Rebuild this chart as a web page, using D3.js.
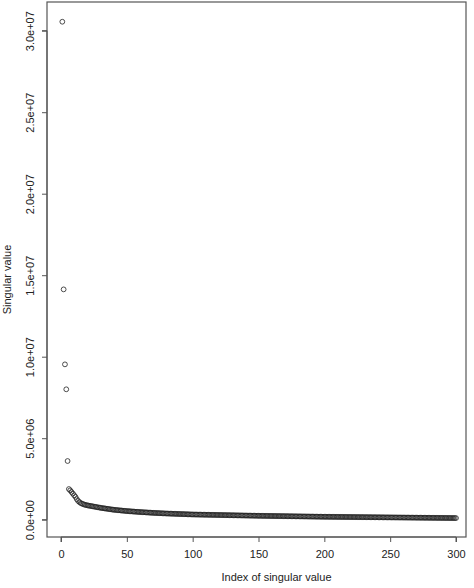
<!DOCTYPE html>
<html>
<head>
<meta charset="utf-8">
<script src="https://cdn.jsdelivr.net/npm/d3@7"></script>
<style>
  body { margin: 0; background: #fff; }
  text { font-family: "Liberation Sans", Arial, sans-serif; fill: #222; }
</style>
</head>
<body>
<script>
// singular values, first few read directly, rest in thousands
const topValues = [30.55e6, 14.13e6, 9.53e6, 8.0e6, 3.6e6];
const tailThousands = [
  1880,1800,1700,1600,1500,1400,1260,1150,1080,1020,
  980,950,920,900,880,
  865,850,835,820,805,790,775,760,745,730,
  718,706,694,682,670,658,646,634,622,610,
  602,594,586,578,570,562,554,546,538,530,
  524,518,512,506,500,494,488,482,476,470,
  465,460,455,450,445,440,435,430,425,420,
  416,412,408,404,400,396,392,388,384,380,
  377,374,371,368,365,362,359,356,353,350,
  347,344,341,338,335,332,329,326,323,320,
  318,317,315,313,312,310,309,307,305,304,
  302,301,299,297,296,294,293,291,289,288,
  286,285,283,281,280,278,277,275,273,272,
  270,269,267,265,264,262,261,259,257,256,
  254,253,251,249,248,246,245,243,241,240,
  239,238,236,235,234,233,232,230,229,228,
  227,226,224,223,222,221,220,218,217,216,
  215,214,212,211,210,209,208,206,205,204,
  203,202,200,199,198,197,196,194,193,192,
  191,190,188,187,186,185,184,182,181,180,
  179,178,178,177,176,175,174,174,173,172,
  171,170,170,169,168,167,166,166,165,164,
  163,162,162,161,160,159,158,158,157,156,
  155,154,154,153,152,151,150,150,149,148,
  147,146,146,145,144,143,142,142,141,140,
  139,138,138,137,136,135,134,134,133,132,
  131,130,130,129,128,127,126,126,125,124,
  123,122,122,121,120,119,118,118,117,116,
  115,114,114,113,112,111,110,110,109,108,
  107,106,106,105,104,103,102,102,101,100
];
const xTicks = [0, 50, 100, 150, 200, 250, 300];
const yTicks = [0, 5e6, 1e7, 1.5e7, 2e7, 2.5e7, 3e7];
const yTickLabels = ["0.0e+00","5.0e+06","1.0e+07","1.5e+07","2.0e+07","2.5e+07","3.0e+07"];

const values = topValues.concat(tailThousands.map(v => v * 1000));
const data = values.map((v, i) => [i + 1, v]);

const w = 474, h = 588;
const box = {left: 47, right: 466, top: 2, bottom: 537};

const svg = d3.select("body").append("svg")
    .attr("width", w)
    .attr("height", h);

const xScale = d3.scaleLinear().domain([0, 300]).range([61, 456]);
const yScale = d3.scaleLinear().domain([0, 3e7]).range([519.7, 30.7]);

svg.append("rect")
    .attr("x", box.left)
    .attr("y", box.top)
    .attr("width", box.right - box.left)
    .attr("height", box.bottom - box.top)
    .attr("fill", "none")
    .attr("stroke", "#555")
    .attr("stroke-width", 1.2);

const xAxis = d3.axisBottom(xScale).tickValues(xTicks).tickSize(5).tickPadding(8).tickFormat(d3.format("d"));
const yAxis = d3.axisLeft(yScale).tickValues(yTicks).tickSize(5).tickPadding(0).tickFormat((d, i) => yTickLabels[i]);

const gx = svg.append("g")
    .attr("transform", `translate(0,${box.bottom})`)
    .call(xAxis);
gx.select(".domain").attr("d", `M${xScale(0)},5V0H${xScale(300)}V5`).attr("stroke", "#555");
gx.selectAll("text").attr("font-size", 11).attr("fill", "#222");
gx.selectAll("line").attr("stroke", "#555");

const gy = svg.append("g")
    .attr("transform", `translate(${box.left},0)`)
    .call(yAxis);
gy.select(".domain").attr("d", `M-5,${yScale(0)}H0V${yScale(3e7)}H-5`).attr("stroke", "#555");
gy.selectAll("line").attr("stroke", "#555");
gy.selectAll("text")
    .attr("font-size", 11)
    .attr("fill", "#222")
    .attr("text-anchor", "middle")
    .attr("x", 0)
    .attr("dy", 0)
    .attr("transform", "translate(-13,0) rotate(-90)");

svg.selectAll("circle")
    .data(data)
    .enter()
    .append("circle")
    .attr("cx", d => xScale(d[0]))
    .attr("cy", d => yScale(d[1]))
    .attr("r", 2.4)
    .attr("fill", "none")
    .attr("stroke", "#222")
    .attr("stroke-width", 0.8);

svg.append("text")
    .attr("x", (box.left + box.right) / 2 + 20)
    .attr("y", 581)
    .attr("text-anchor", "middle")
    .attr("font-size", 11)
    .text("Index of singular value");

svg.append("text")
    .attr("transform", `translate(11,${(box.top + box.bottom) / 2 + 10}) rotate(-90)`)
    .attr("text-anchor", "middle")
    .attr("font-size", 11)
    .text("Singular value");
</script>
</body>
</html>
